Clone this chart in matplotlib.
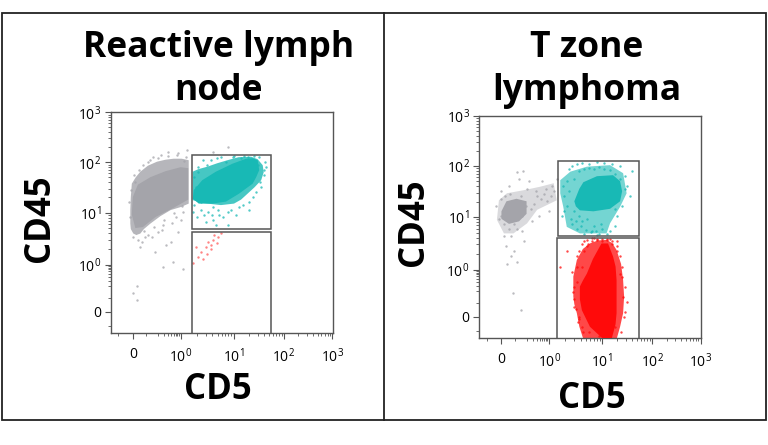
import numpy as np
import matplotlib.pyplot as plt
from matplotlib.patches import Rectangle
from matplotlib.lines import Line2D

plt.rcParams['font.family'] = ['Open Sans', 'DejaVu Sans']
plt.rcParams['mathtext.fontset'] = 'custom'
plt.rcParams['mathtext.rm'] = 'Open Sans'
plt.rcParams['mathtext.default'] = 'regular'

# axis units: 0 -> "0", each decade -> one unit (biexponential display)
tick_pos_x = [0, 0.95, 2.0, 3.0, 3.96]
tick_pos_y = [0, 0.94, 1.99, 3.0, 4.0]
tick_labels = ['0', '$10^{0}$', '$10^{1}$', '$10^{2}$', '$10^{3}$']

titles = [["Reactive lymph", "node"], ["T zone", "lymphoma"]]
xlabel = "CD5"
ylabel = "CD45"

# gates: (x0, x1, y0, y1)
gates_left = [(1.18, 2.75, 1.67, 3.14), (1.17, 2.75, -0.5, 1.61)]
gates_right = [(1.13, 2.74, 1.61, 3.10), (1.11, 2.73, -0.5, 1.56)]

# ---- reactive lymph node ----
gray_l_mid_x = [-0.05, -0.04, -0.02, 0.06, 0.15, 0.3, 0.48, 0.65, 0.81, 0.97, 1.11, 1.11, 0.95,
                0.75, 0.55, 0.35, 0.22, 0.15, 0.07, 0.01, -0.04, -0.05]
gray_l_mid_y = [2.04, 2.3, 2.57, 2.7, 2.81, 2.93, 3.01, 3.05, 3.07, 3.07, 3.04, 2.17, 2.1,
                2.04, 1.92, 1.77, 1.66, 1.57, 1.54, 1.57, 1.66, 1.77]
gray_l_core_x = [0.0, 0.1, 0.35, 0.65, 0.95, 1.1, 1.1, 0.8, 0.45, 0.2, 0.05, -0.02]
gray_l_core_y = [2.3, 2.55, 2.7, 2.82, 2.9, 2.88, 2.25, 2.08, 1.9, 1.7, 1.68, 1.95]
gray_l_x = [-0.08, 0.02, 0.2, 0.4, 0.55, 0.7, 0.9, 1.05, 0.25, 0.6, 0.85, 1.0, 0.1, 0.3, 0.5,
            0.75, 0.95, 0.0, 0.15, 0.45, 0.01, 0.08, 0.08, 0.6, 0.8, 1.0, 0.9, 0.35, 1.08, 0.65,
            1.9, 1.6, 0.05, 0.12, 0.3, 0.5, 0.7, 0.88, 1.02, -0.06, -0.04, 0.22, 0.42, 0.62,
            0.82, 0.97, 0.18, 0.38, 0.58, 0.78]
gray_l_y = [2.2, 2.75, 2.95, 3.1, 3.15, 3.2, 3.18, 3.1, 1.5, 1.75, 1.9, 2.0, 1.45, 1.55, 1.6,
            1.4, 1.85, 1.5, 1.3, 1.2, 0.37, 0.24, 0.51, 0.9, 1.0, 0.85, 1.6, 3.05, 3.25, 1.35,
            3.3, 3.2, 2.6, 2.85, 3.0, 3.08, 3.12, 3.14, 3.02, 1.9, 2.45, 1.62, 1.7, 1.85,
            1.98, 2.12, 1.4, 1.5, 1.65, 1.78]

teal_l_mid_x = [1.19, 1.35, 1.48, 1.75, 2.01, 2.15, 2.28, 2.42, 2.55, 2.6, 2.58, 2.48, 2.35,
                2.1, 1.88, 1.68, 1.48, 1.3, 1.19]
teal_l_mid_y = [2.24, 2.19, 2.17, 2.14, 2.17, 2.25, 2.37, 2.5, 2.64, 2.8, 2.94, 3.06, 3.11,
                3.1, 3.04, 2.98, 2.91, 2.86, 2.81]
teal_l_core_x = [1.21, 1.38, 1.65, 1.98, 2.25, 2.38, 2.48, 2.51, 2.45, 2.38, 2.11, 1.85, 1.58,
                 1.31, 1.19]
teal_l_core_y = [2.44, 2.64, 2.81, 2.97, 3.07, 3.08, 3.04, 2.84, 2.7, 2.57, 2.37, 2.21, 2.17,
                 2.17, 2.27]
teal_l_x = [1.2, 1.25, 1.3, 1.22, 1.4, 1.5, 1.6, 1.7, 1.8, 1.9, 2.1, 2.3, 2.45, 2.6, 2.62, 2.5,
            2.4, 2.2, 2.0, 1.75, 1.55, 1.35, 1.45, 1.65, 2.05, 2.55, 1.28, 1.9, 2.3, 1.6, 1.85, 2.15,
            1.22, 1.24, 1.35, 1.42, 1.58, 1.72, 1.95, 2.18, 2.38, 2.52, 2.6, 2.65, 2.48, 2.28,
            1.98, 1.68, 1.3, 1.48]
teal_l_y = [2.0, 2.5, 2.9, 2.7, 3.05, 2.0, 1.85, 2.05, 1.9, 2.0, 2.1, 2.2, 2.4, 2.75, 3.0, 3.1,
            3.12, 3.13, 3.12, 3.1, 3.05, 2.2, 1.8, 1.75, 1.95, 2.5, 1.9, 1.75, 2.05, 2.1, 3.0, 3.08,
            2.15, 2.35, 2.05, 1.95, 1.95, 1.95, 2.05, 2.15, 2.3, 2.6, 2.85, 2.9, 2.95, 3.1,
            3.1, 3.08, 2.8, 2.95]

red_l_x = [1.2, 1.3, 1.35, 1.45, 1.5, 1.55, 1.6, 1.62, 1.7, 1.75, 1.4, 1.25, 1.55, 1.68, 1.48]
red_l_y = [0.98, 1.1, 1.2, 1.3, 1.4, 1.25, 1.45, 1.55, 1.5, 1.58, 1.05, 1.3, 1.35, 1.38, 1.15]

# ---- T zone lymphoma ----
gray_r_mid_x = [-0.05, 0.11, 0.44, 0.77, 1.04, 1.10, 0.71, 0.51, 0.24, 0.05, -0.09]
gray_r_mid_y = [2.32, 2.46, 2.52, 2.59, 2.66, 2.32, 2.13, 1.86, 1.66, 1.66, 1.93]
gray_r_core_x = [0.0, 0.1, 0.3, 0.5, 0.5, 0.35, 0.15, 0.0]
gray_r_core_y = [2.1, 2.3, 2.35, 2.3, 2.05, 1.9, 1.85, 1.95]
gray_r_x = [-0.1, 0.0, 0.05, 0.1, 0.2, 0.3, 0.45, 0.6, 0.75, 0.9, 1.05, 1.1, 0.8, 0.55, 0.35,
            0.15, 0.05, 0.25, 0.4, 0.12, 0.2, 0.3, 0.5, 0.7, 0.95, 0.0, 0.65, 0.85, 1.0, 0.42,
            0.24, 0.38, 0.31, 0.0, 0.08, 0.18, 0.28, 0.38, 0.48, 0.58, 0.68, 0.78, 0.88, 0.98,
            0.1, 0.2, 0.3, 0.4, 0.15, 0.25, 0.35, 0.05, -0.05]
gray_r_y = [2.2, 2.5, 1.6, 1.4, 1.2, 1.1, 1.5, 1.9, 2.0, 2.3, 2.5, 2.75, 2.7, 2.7, 2.75,
            2.6, 1.85, 1.3, 1.7, 1.05, 1.6, 1.75, 2.55, 2.4, 2.1, 2.0, 2.25, 2.45, 2.6, 2.9,
            0.47, 0.13, 2.89, 2.35, 2.4, 2.45, 2.3, 2.4, 2.2, 2.15, 2.5, 2.35, 2.55, 2.4,
            2.0, 2.15, 1.95, 2.0, 1.75, 1.85, 2.2, 2.1, 1.95]

teal_r_mid_x = [1.17, 1.37, 1.70, 2.16, 2.42, 2.49, 2.36, 2.16, 2.09, 1.56, 1.30, 1.23, 1.17]
teal_r_mid_y = [2.72, 2.89, 2.99, 3.02, 2.86, 2.46, 2.19, 1.86, 1.66, 1.66, 1.79, 2.19, 2.46]
teal_r_core_x = [1.45, 1.55, 1.63, 1.9, 2.22, 2.36, 2.4, 2.36, 2.16, 1.83, 1.56, 1.48]
teal_r_core_y = [2.3, 2.55, 2.68, 2.8, 2.82, 2.7, 2.5, 2.3, 2.15, 2.1, 2.12, 2.2]
teal_r_x = [1.2, 1.25, 1.3, 1.35, 1.4, 1.5, 1.6, 1.75, 1.9, 2.05, 2.2, 2.35, 2.45, 2.5, 2.55,
            2.4, 2.3, 2.25, 2.1, 1.95, 1.8, 1.65, 1.5, 1.4, 1.45, 1.6, 1.7, 1.85, 2.0, 2.15,
            1.3, 1.22, 1.55, 1.9, 2.25, 2.6, 1.25, 1.35, 1.45, 1.55, 1.65, 1.75, 1.85, 1.95,
            2.05, 2.15, 2.25, 2.35, 2.45, 1.38, 1.48, 1.58, 1.68, 1.78, 1.88, 1.98]
teal_r_y = [2.0, 2.4, 2.7, 2.95, 3.0, 3.05, 3.07, 3.05, 3.08, 3.06, 3.04, 3.0, 2.8, 2.6, 2.4,
            2.2, 2.0, 1.8, 1.65, 1.65, 1.7, 1.65, 1.75, 1.85, 2.1, 1.9, 1.95, 1.8, 1.75, 1.7,
            2.2, 2.6, 2.0, 1.62, 2.15, 2.9, 2.1, 2.5, 2.75, 2.9, 2.95, 2.97, 2.95, 2.98,
            2.95, 2.92, 2.85, 2.75, 2.55, 1.95, 1.9, 1.8, 1.72, 1.68, 1.7, 1.85]

red_r_mid_x = [1.43, 1.50, 1.62, 1.76, 1.92, 2.09, 2.2, 2.29, 2.38, 2.42, 2.44, 2.42, 2.36,
               2.29, 1.63, 1.55, 1.50, 1.45, 1.43]
red_r_mid_y = [0.80, 1.13, 1.35, 1.46, 1.52, 1.53, 1.47, 1.33, 1.05, 0.73, 0.4, 0.07, -0.2,
               -0.45, -0.45, -0.2, 0.07, 0.25, 0.40]
red_r_core_x = [1.99, 1.82, 1.70, 1.62, 1.56, 1.56, 1.60, 1.76, 2.03, 2.19, 2.27, 2.29, 2.29,
                2.27, 2.22, 2.12]
red_r_core_y = [1.46, 1.15, 0.86, 0.72, 0.60, 0.35, 0.13, -0.20, -0.45, -0.45, -0.15, 0.07,
                0.73, 1.0, 1.20, 1.46]
red_r_x = [1.4, 1.42, 1.45, 1.5, 1.55, 1.6, 1.7, 1.8, 1.9, 2.0, 2.1, 2.2, 2.3, 2.4, 2.45, 2.5,
           2.44, 2.38, 2.3, 1.5, 1.45, 1.55, 1.65, 1.75, 1.95, 2.15, 2.35, 1.85, 2.05, 1.6,
           1.72, 2.25, 1.17, 1.3, 1.45, 1.5, 1.55, 1.6, 1.65, 1.7, 1.8, 1.9, 2.0, 2.1, 2.2,
           2.3, 2.35, 2.4, 2.42, 2.45, 1.48, 1.52, 1.62, 1.58]
red_r_y = [0.9, 0.5, 0.2, 1.2, 0.0, -0.2, 1.4, 1.5, 1.55, 1.55, 1.52, 1.45, 1.3, 1.0, 0.6, 0.3,
           0.0, -0.3, 1.5, 0.7, 0.35, -0.05, 1.3, -0.3, -0.38, 1.55, 0.85, 1.56, -0.35, 1.0,
           1.45, -0.2, 1.0, 1.3, 0.6, 1.0, 1.3, 1.45, 1.5, 1.52, 1.56, 1.52, 1.5, 1.55, 1.5,
           1.4, 1.2, 0.8, 0.4, 0.1, 0.15, -0.1, -0.3, 0.45]

GRAY = '#a4a4aa'
TEAL = '#18b9b5'
RED = '#ff0a0a'
FRAME = '#555555'


def cloud(ax, mid_x, mid_y, core_x, core_y, pts_x, pts_y, color, mid_alpha=0.8):
    ax.fill(mid_x, mid_y, color=color, alpha=mid_alpha, lw=0, zorder=2)
    ax.fill(core_x, core_y, color=color, lw=0, zorder=3)
    ax.scatter(pts_x, pts_y, s=3, color=color, alpha=0.75, lw=0, zorder=4)


def minor_ticks(pos):
    m = [-0.29, 0.27, 0.51, 0.62, 0.70, 0.76, 0.81, 0.85, 0.88, 0.91]
    for k in range(1, 4):
        for j in range(2, 10):
            m.append(pos[k] + np.log10(j) * (pos[k + 1] - pos[k]))
    return m


def style(ax):
    ax.set_xlim(-0.44, 3.97)
    ax.set_ylim(-0.43, 4.0)
    ax.set_xticks(tick_pos_x)
    ax.set_xticklabels(tick_labels)
    ax.set_yticks(tick_pos_y)
    ax.set_yticklabels(tick_labels)
    ax.set_xticks(minor_ticks(tick_pos_x), minor=True)
    ax.set_yticks(minor_ticks(tick_pos_y), minor=True)
    ax.tick_params(which='major', direction='out', length=4, width=0.8, color=FRAME,
                   labelsize=10, pad=3)
    ax.tick_params(which='minor', direction='out', length=2, width=0.6, color=FRAME)
    ax.tick_params(axis='x', pad=6)
    for s in ax.spines.values():
        s.set_color(FRAME)
        s.set_linewidth(1.0)


def gates(ax, gl):
    for x0, x1, y0, y1 in gl:
        ax.add_patch(Rectangle((x0, y0), x1 - x0, y1 - y0, fill=False, ec=FRAME, lw=1.1, zorder=5))


fig = plt.figure(figsize=(7.68, 4.45), dpi=100)

axL = fig.add_axes([0.1441, 0.251, 0.2891, 0.4966])
cloud(axL, gray_l_mid_x, gray_l_mid_y, gray_l_core_x, gray_l_core_y, gray_l_x, gray_l_y, GRAY)
cloud(axL, teal_l_mid_x, teal_l_mid_y, teal_l_core_x, teal_l_core_y, teal_l_x, teal_l_y, TEAL)
axL.scatter(red_l_x, red_l_y, s=3, color=RED, alpha=0.5, lw=0, zorder=4)
gates(axL, gates_left)
style(axL)

axR = fig.add_axes([0.6241, 0.2398, 0.2887, 0.4996])
cloud(axR, gray_r_mid_x, gray_r_mid_y, gray_r_core_x, gray_r_core_y, gray_r_x, gray_r_y, GRAY,
      mid_alpha=0.4)
cloud(axR, teal_r_mid_x, teal_r_mid_y, teal_r_core_x, teal_r_core_y, teal_r_x, teal_r_y, TEAL,
      mid_alpha=0.6)
cloud(axR, red_r_mid_x, red_r_mid_y, red_r_core_x, red_r_core_y, red_r_x, red_r_y, RED,
      mid_alpha=0.75)
gates(axR, gates_right)
style(axR)

# titles and axis names
for cx, (l1, l2) in zip([0.284, 0.764], titles):
    fig.text(cx, 1 - 57 / 445, l1, ha='center', va='baseline', fontsize=25.5, fontweight='bold')
    fig.text(cx, 1 - 100 / 445, l2, ha='center', va='baseline', fontsize=25.5, fontweight='bold')
fig.text(218 / 768, 1 - 399 / 445, xlabel, ha='center', va='baseline', fontsize=25, fontweight='bold')
fig.text(592 / 768, 1 - 408 / 445, xlabel, ha='center', va='baseline', fontsize=25, fontweight='bold')
fig.text(40 / 768, 1 - 218 / 445, ylabel, ha='center', va='center', rotation=90,
         fontsize=25, fontweight='bold')
fig.text(414 / 768, 1 - 222 / 445, ylabel, ha='center', va='center', rotation=90,
         fontsize=25, fontweight='bold')

# outer panel box
top, bot = 1 - 13 / 445, 1 - 420 / 445
fig.add_artist(Rectangle((0.002, bot), 0.996, top - bot, transform=fig.transFigure,
                         fill=False, ec='#222222', lw=1.3))
fig.add_artist(Line2D([0.5, 0.5], [bot, top], transform=fig.transFigure, color='#222222', lw=1.3))

fig.savefig('out.png', dpi=100)
